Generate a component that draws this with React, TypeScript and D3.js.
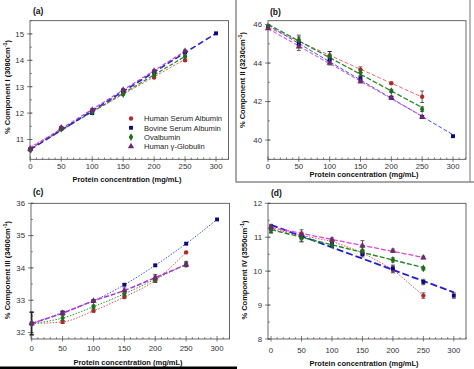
import React from "react";
import * as d3 from "d3";

const conc = [0, 50, 100, 150, 200, 250, 300];
const seriesNames = ["Human Serum Albumin", "Bovine Serum Albumin", "Ovalbumin", "Human \u03b3-Globulin"];

// Panel (a) Component I (3080 cm-1)
const aHSA = [10.62, 11.45, 12.1, 12.75, 13.35, 14.0];
const aBSA = [10.62, 11.4, 12.0, 12.85, 13.55, 14.3, 15.02];
const aOVA = [10.62, 11.4, 12.05, 12.72, 13.45, 14.15];
const aHGG = [10.65, 11.45, 12.12, 12.88, 13.6, 14.35];
const aErr = [0.04, 0.04, 0.04, 0.04, 0.04, 0.04, 0.04];

// Panel (b) Component II (3230 cm-1)
const bHSA = [45.85, 45.15, 44.4, 43.65, 42.95, 42.25];
const bBSA = [45.85, 45.0, 44.2, 43.2, 42.2, 41.2, 40.2];
const bOVA = [45.9, 45.2, 44.35, 43.5, 42.55, 41.6];
const bHGG = [45.8, 44.85, 44.0, 43.05, 42.2, 41.2];
const bErrHSA = [0.05, 0.2, 0.2, 0.15, 0.05, 0.3];
const bErrBSA = [0.05, 0.15, 0.1, 0.1, 0.08, 0.08, 0.05];
const bErrOVA = [0.05, 0.25, 0.25, 0.15, 0.08, 0.12];
const bErrHGG = [0.05, 0.2, 0.1, 0.08, 0.06, 0.06];

// Panel (c) Component III (3400 cm-1)
const cHSA = [32.28, 32.33, 32.67, 33.1, 33.62, 34.48];
const cBSA = [32.28, 32.62, 32.98, 33.48, 34.08, 34.75, 35.5];
const cOVA = [32.28, 32.45, 32.8, 33.2, 33.65, 34.12];
const cHGG = [32.28, 32.6, 32.98, 33.3, 33.7, 34.1];
const cErrHSA = [0.35, 0.05, 0.03, 0.05, 0.05, 0.03];
const cErrBSA = [0.35, 0.04, 0.03, 0.03, 0.03, 0.03, 0.03];
const cErrOVA = [0.35, 0.08, 0.05, 0.1, 0.1, 0.08];
const cErrHGG = [0.35, 0.05, 0.03, 0.08, 0.1, 0.06];

// Panel (d) Component IV (3550 cm-1)
const dHSA = [11.25, 11.05, 10.88, 10.55, 10.05, 9.28];
const dBSA = [11.25, 11.0, 10.8, 10.5, 10.08, 9.68, 9.28];
const dOVA = [11.22, 10.98, 10.78, 10.6, 10.33, 10.08];
const dHGG = [11.3, 11.1, 10.93, 10.75, 10.6, 10.4];
const dErrHSA = [0.1, 0.1, 0.05, 0.08, 0.1, 0.08];
const dErrBSA = [0.1, 0.12, 0.06, 0.08, 0.1, 0.08, 0.08];
const dErrOVA = [0.1, 0.12, 0.05, 0.1, 0.06, 0.04];
const dErrHGG = [0.08, 0.12, 0.05, 0.15, 0.05, 0.04];

const xTicks = [0, 50, 100, 150, 200, 250, 300];

const markerColors = ["#b3282d", "#0a0a80", "#1c6e1c", "#6e2a6e"];
const symbols = [d3.symbolCircle, d3.symbolSquare, d3.symbolDiamond, d3.symbolTriangle];
const symSizes = [15, 15, 17, 17];

type Fit = "lin" | "curve" | "seg";
interface SeriesSpec {
  vals: number[];
  err: number[];
  fit: Fit;
  color: string;
  dash: string;
  width: number;
}

function linfit(xs: number[], ys: number[]) {
  const mx = d3.mean(xs) as number;
  const my = d3.mean(ys) as number;
  let num = 0, den = 0;
  xs.forEach((x, i) => { num += (x - mx) * (ys[i] - my); den += (x - mx) * (x - mx); });
  const b = num / den;
  const a = my - b * mx;
  return (x: number) => a + b * x;
}

const FONT = "Liberation Sans, Arial, sans-serif";

interface PanelProps {
  label: string;
  yTitle: string;
  xDomain: [number, number];
  xRange: [number, number];
  yDomain: [number, number];
  yRange: [number, number];
  yTicks: number[];
  frameLeft: number;
  frameRight: number;
  labelPos: [number, number];
  xTickY: number;
  xTitlePos: [number, number];
  yTitlePos: [number, number];
  series: SeriesSpec[];
  order: number[];
}

function Panel(p: PanelProps) {
  const x = d3.scaleLinear().domain(p.xDomain).range(p.xRange);
  const y = d3.scaleLinear().domain(p.yDomain).range(p.yRange);
  const top = p.yRange[1];
  const bottom = p.yRange[0];
  const minorX = d3.range(0, 321, 10);
  const yStep = p.yTicks[1] - p.yTicks[0];
  const minorY = d3.range(p.yTicks[0] - yStep, p.yTicks[p.yTicks.length - 1] + yStep, yStep / 2).filter(v => v >= p.yDomain[0] && v <= p.yDomain[1]);

  return (
    <g>
      <text x={p.labelPos[0]} y={p.labelPos[1]} fontFamily={FONT} fontWeight="bold" fontSize={8.5} fill="#111">{p.label}</text>
      <rect x={p.frameLeft} y={top} width={p.frameRight - p.frameLeft} height={bottom - top} fill="none" stroke="#444" strokeWidth={0.8} />
      {minorX.map(v => (
        <line key={"mx" + v} x1={x(v)} x2={x(v)} y1={bottom} y2={bottom - (v % 50 === 0 ? 3 : 1.8)} stroke="#444" strokeWidth={0.7} />
      ))}
      {xTicks.map(v => (
        <g key={"xt" + v}>
          <line x1={x(v)} x2={x(v)} y1={bottom} y2={bottom + 2.5} stroke="#444" strokeWidth={0.7} />
          <text x={x(v)} y={p.xTickY} textAnchor="middle" fontFamily={FONT} fontSize={7.8} fill="#333">{v}</text>
        </g>
      ))}
      {minorY.map((v, i) => (
        <line key={"my" + i} x1={p.frameLeft} x2={p.frameLeft + 1.8} y1={y(v)} y2={y(v)} stroke="#444" strokeWidth={0.7} />
      ))}
      {p.yTicks.map(v => (
        <g key={"yt" + v}>
          <line x1={p.frameLeft - 3} x2={p.frameLeft + 2.5} y1={y(v)} y2={y(v)} stroke="#444" strokeWidth={0.7} />
          <text x={p.frameLeft - 6} y={y(v) + 2.8} textAnchor="end" fontFamily={FONT} fontSize={7.8} fill="#333">{v}</text>
        </g>
      ))}
      <text x={p.xTitlePos[0]} y={p.xTitlePos[1]} textAnchor="middle" fontFamily={FONT} fontWeight="bold" fontSize={7.5} fill="#111">Protein concentration (mg/mL)</text>
      <text transform={`translate(${p.yTitlePos[0]},${p.yTitlePos[1]}) rotate(-90)`} textAnchor="middle" fontFamily={FONT} fontWeight="bold" fontSize={7.5} fill="#111">
        {p.yTitle}
        <tspan dy={-3} fontSize={5.5}>-1</tspan>
        <tspan dy={3}>)</tspan>
      </text>
      {p.order.map(si => {
        const s = p.series[si];
        const xs = conc.slice(0, s.vals.length);
        let d = "";
        if (s.fit === "lin") {
          const f = linfit(xs, s.vals);
          const pts: [number, number][] = [[0, f(0)], [xs[xs.length - 1], f(xs[xs.length - 1])]];
          d = d3.line<[number, number]>().x(q => x(q[0])).y(q => y(q[1]))(pts) || "";
        } else {
          const pts: [number, number][] = xs.map((v, i) => [v, s.vals[i]]);
          const gen = d3.line<[number, number]>().x(q => x(q[0])).y(q => y(q[1]));
          if (s.fit === "curve") gen.curve(d3.curveMonotoneX);
          d = gen(pts) || "";
        }
        return <path key={"l" + si} d={d} fill="none" stroke={s.color} strokeWidth={s.width} strokeDasharray={s.dash} />;
      })}
      {p.series.map((s, si) => (
        <g key={"e" + si}>
          {s.vals.map((v, i) => {
            const e = s.err[i];
            if (!e) return null;
            const cx = x(conc[i]);
            return (
              <g key={i} stroke="#222" strokeWidth={0.7}>
                <line x1={cx} x2={cx} y1={y(v - e)} y2={y(v + e)} />
                <line x1={cx - 2} x2={cx + 2} y1={y(v - e)} y2={y(v - e)} />
                <line x1={cx - 2} x2={cx + 2} y1={y(v + e)} y2={y(v + e)} />
              </g>
            );
          })}
        </g>
      ))}
      {p.series.map((s, si) => (
        <g key={"m" + si}>
          {s.vals.map((v, i) => (
            <path key={i} d={d3.symbol().type(symbols[si]).size(symSizes[si])() || ""} transform={`translate(${x(conc[i])},${y(v)})`} fill={markerColors[si]} />
          ))}
        </g>
      ))}
    </g>
  );
}

export default function App() {
  const aSeries: SeriesSpec[] = [
    { vals: aHSA, err: aErr, fit: "lin", color: "#f06a6a", dash: "2.5,1.5", width: 1 },
    { vals: aBSA, err: aErr, fit: "lin", color: "#2a2ac8", dash: "6,3", width: 1.6 },
    { vals: aOVA, err: aErr, fit: "lin", color: "#2a8a2a", dash: "4,2", width: 1.2 },
    { vals: aHGG, err: aErr, fit: "lin", color: "#d840d8", dash: "4,2", width: 1.2 },
  ];
  const bSeries: SeriesSpec[] = [
    { vals: bHSA, err: bErrHSA, fit: "lin", color: "#f06a6a", dash: "4,2", width: 1 },
    { vals: bBSA, err: bErrBSA, fit: "lin", color: "#4a4ae8", dash: "4,2", width: 1 },
    { vals: bOVA, err: bErrOVA, fit: "lin", color: "#2a8a2a", dash: "5,2", width: 1.3 },
    { vals: bHGG, err: bErrHGG, fit: "lin", color: "#c870f0", dash: "4,2", width: 1.2 },
  ];
  const cSeries: SeriesSpec[] = [
    { vals: cHSA, err: cErrHSA, fit: "curve", color: "#f05050", dash: "1.5,1.5", width: 1 },
    { vals: cBSA, err: cErrBSA, fit: "curve", color: "#4a4ae8", dash: "1.5,1.5", width: 1 },
    { vals: cOVA, err: cErrOVA, fit: "curve", color: "#2a9a2a", dash: "1.5,1.5", width: 1 },
    { vals: cHGG, err: cErrHGG, fit: "curve", color: "#b030e0", dash: "5,2", width: 1.5 },
  ];
  const dSeries: SeriesSpec[] = [
    { vals: dHSA, err: dErrHSA, fit: "seg", color: "#f05050", dash: "1.5,1.5", width: 1 },
    { vals: dBSA, err: dErrBSA, fit: "lin", color: "#2020d0", dash: "7,3", width: 1.8 },
    { vals: dOVA, err: dErrOVA, fit: "lin", color: "#208a20", dash: "5,2", width: 1.4 },
    { vals: dHGG, err: dErrHGG, fit: "lin", color: "#e040e0", dash: "5,2", width: 1.3 },
  ];

  return (
    <svg width={474} height={369} style={{ position: "absolute", left: 0, top: 0, background: "#fff" }}>
      <rect x={0} y={0} width={474} height={369} fill="#fff" />
      <polyline points="236,0 236,182 474,182" fill="none" stroke="#8a8a8a" strokeWidth={1.5} />
      <line x1={470} x2={470} y1={0} y2={182} stroke="#8a8a8a" strokeWidth={1.2} />
      <rect x={0} y={366.5} width={237} height={2.5} fill="#000" />

      <Panel label="(a)" yTitle="% Component I (3080cm"
        xDomain={[0, 320]} xRange={[30.3, 228.4]} yDomain={[10.25, 15.5]} yRange={[159.3, 20.7]}
        yTicks={[11, 12, 13, 14, 15]} frameLeft={30} frameRight={228.4}
        labelPos={[33, 13.5]} xTickY={168.5} xTitlePos={[127, 182]} yTitlePos={[9.5, 87]}
        series={aSeries} order={[0, 2, 3, 1]} />

      {seriesNames.map((n, i) => (
        <g key={n}>
          <path d={d3.symbol().type(symbols[i]).size(symSizes[i])() || ""} transform={`translate(131,${118.5 + i * 9.3})`} fill={markerColors[i]} />
          <text x={144} y={121.3 + i * 9.3} fontFamily={FONT} fontSize={7.6} fill="#222">{n}</text>
        </g>
      ))}

      <Panel label="(b)" yTitle="% Component II (3230cm"
        xDomain={[0, 320]} xRange={[268, 465.3]} yDomain={[39, 46.2]} yRange={[159.3, 20.7]}
        yTicks={[40, 42, 44, 46]} frameLeft={268} frameRight={466}
        labelPos={[270, 15]} xTickY={168.5} xTitlePos={[364, 177]} yTitlePos={[244.5, 80]}
        series={bSeries} order={[0, 2, 1, 3]} />

      <Panel label="(c)" yTitle="% Component III (3400cm"
        xDomain={[0, 320]} xRange={[31.7, 229.4]} yDomain={[31.8, 36]} yRange={[339, 203.3]}
        yTicks={[32, 33, 34, 35, 36]} frameLeft={31} frameRight={229.4}
        labelPos={[33, 194.5]} xTickY={351} xTitlePos={[128, 364.5]} yTitlePos={[9.5, 270]}
        series={cSeries} order={[0, 2, 1, 3]} />

      <Panel label="(d)" yTitle="% Component IV (3550cm"
        xDomain={[-5, 320]} xRange={[268, 466]} yDomain={[8, 12]} yRange={[339, 203.3]}
        yTicks={[8, 9, 10, 11, 12]} frameLeft={268} frameRight={466}
        labelPos={[271, 195.5]} xTickY={353} xTitlePos={[364, 366]} yTitlePos={[246.5, 270]}
        series={dSeries} order={[0, 1, 2, 3]} />
    </svg>
  );
}
